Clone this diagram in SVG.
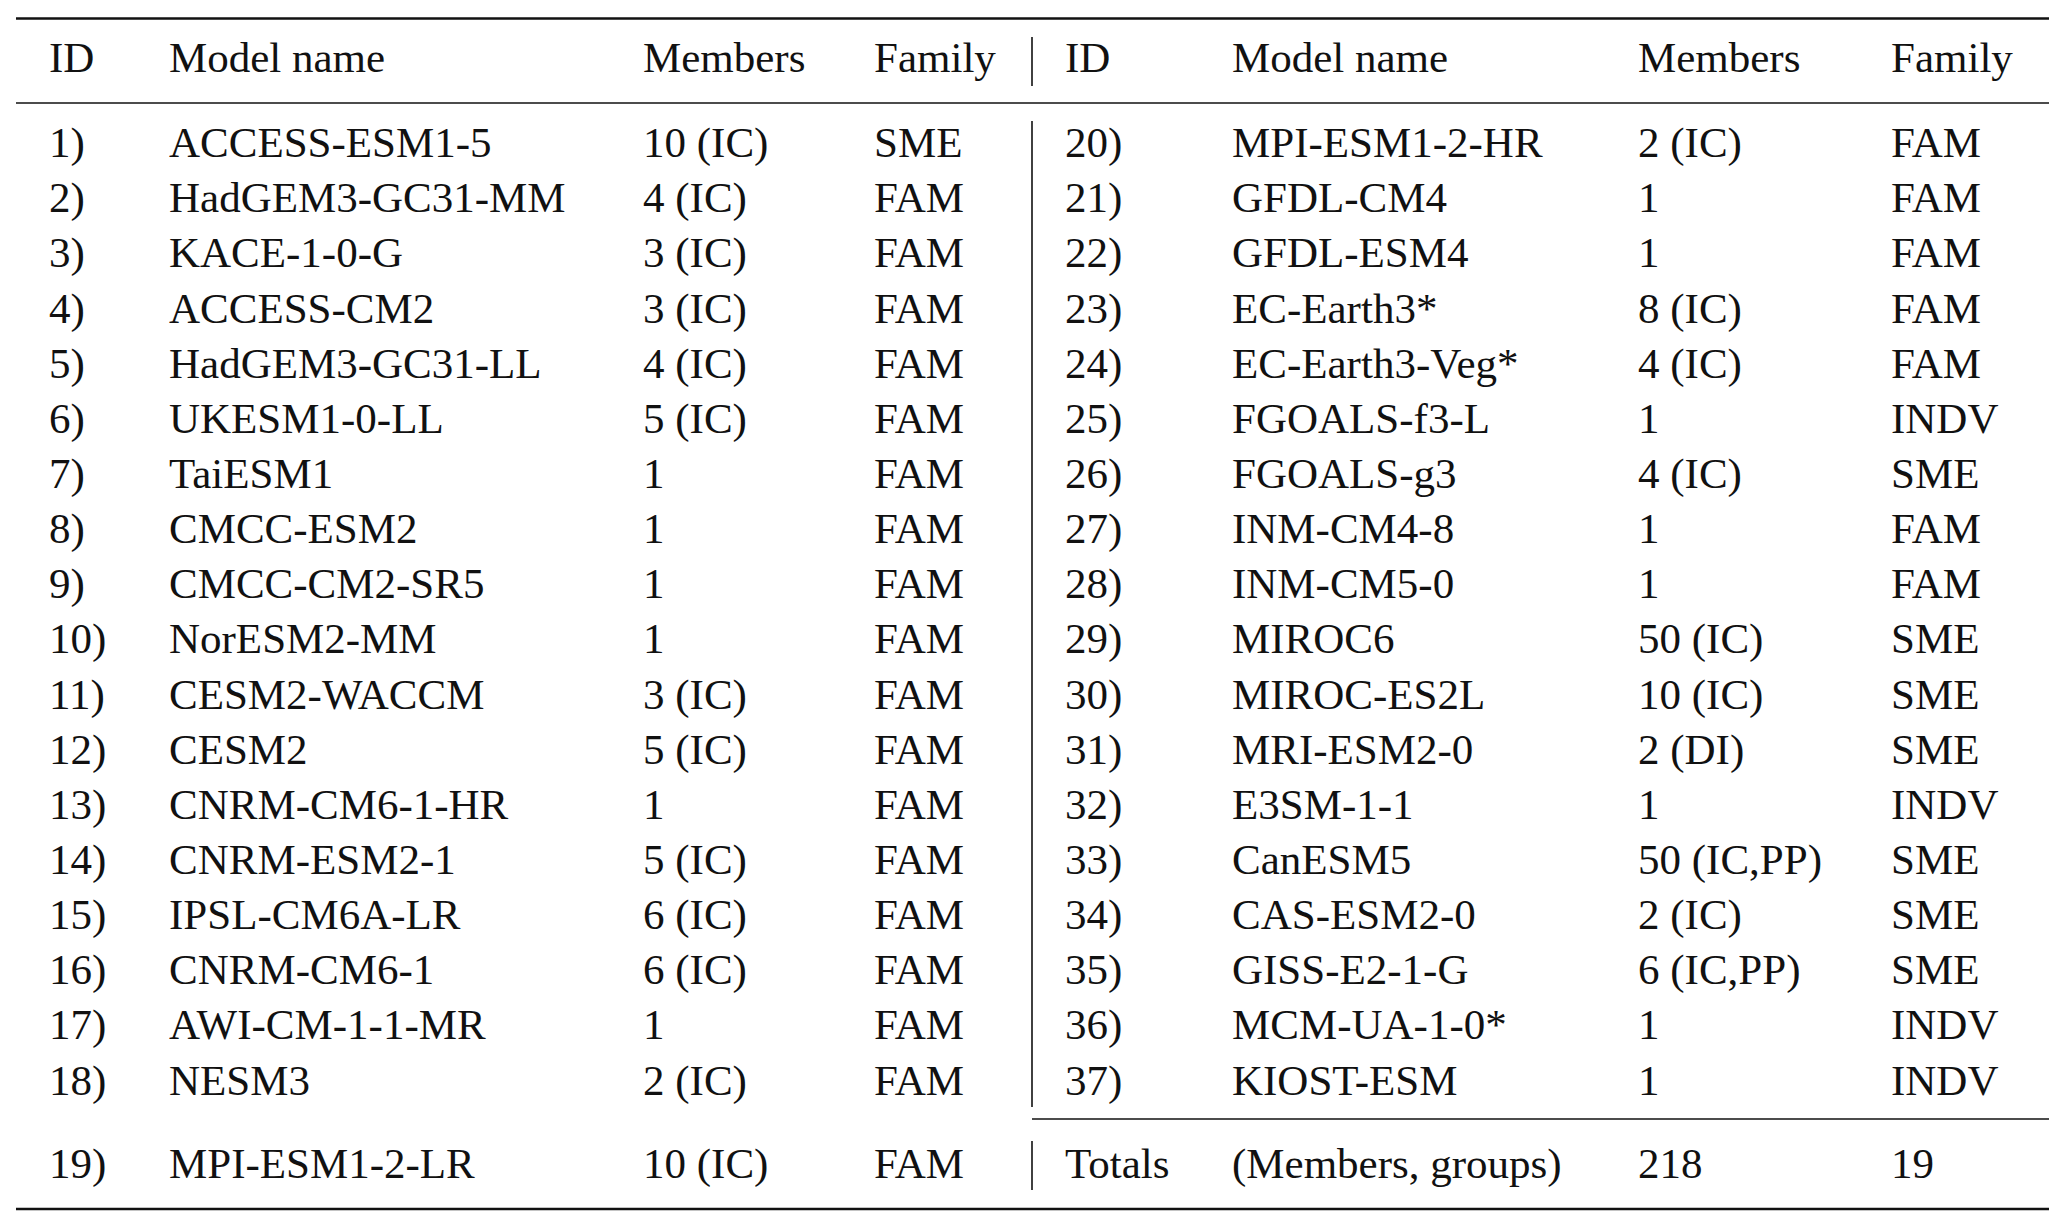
<svg xmlns="http://www.w3.org/2000/svg" width="2067" height="1229" viewBox="0 0 2067 1229">
<style>
text{font-family:"Liberation Serif","Times New Roman",serif;font-size:43px;fill:#111}
line{stroke:#111}
</style>
<rect width="2067" height="1229" fill="#fff"/>
<g id="rules">
<line x1="16" y1="18.5" x2="2049" y2="18.5" stroke-width="2.5"/>
<line x1="16" y1="103" x2="2049" y2="103" stroke-width="1.6"/>
<line x1="16" y1="1209" x2="2049" y2="1209" stroke-width="2.5"/>
<line x1="1032" y1="1119" x2="2049" y2="1119" stroke-width="1.6"/>
<line x1="1032" y1="37" x2="1032" y2="86" stroke-width="1.6"/>
<line x1="1032" y1="121" x2="1032" y2="1107" stroke-width="1.6"/>
<line x1="1032" y1="1141" x2="1032" y2="1190" stroke-width="1.6"/>
</g>
<g id="header">
<text x="49" y="72">ID</text><text x="169" y="72">Model name</text><text x="643" y="72">Members</text><text x="874" y="72">Family</text>
<text x="1065" y="72">ID</text><text x="1232" y="72">Model name</text><text x="1638" y="72">Members</text><text x="1891" y="72">Family</text>
</g>
<g id="left">
<text x="49" y="157">1)</text><text x="169" y="157">ACCESS-ESM1-5</text><text x="643" y="157">10 (IC)</text><text x="874" y="157">SME</text>
<text x="49" y="212">2)</text><text x="169" y="212">HadGEM3-GC31-MM</text><text x="643" y="212">4 (IC)</text><text x="874" y="212">FAM</text>
<text x="49" y="267">3)</text><text x="169" y="267">KACE-1-0-G</text><text x="643" y="267">3 (IC)</text><text x="874" y="267">FAM</text>
<text x="49" y="323">4)</text><text x="169" y="323">ACCESS-CM2</text><text x="643" y="323">3 (IC)</text><text x="874" y="323">FAM</text>
<text x="49" y="378">5)</text><text x="169" y="378">HadGEM3-GC31-LL</text><text x="643" y="378">4 (IC)</text><text x="874" y="378">FAM</text>
<text x="49" y="433">6)</text><text x="169" y="433">UKESM1-0-LL</text><text x="643" y="433">5 (IC)</text><text x="874" y="433">FAM</text>
<text x="49" y="488">7)</text><text x="169" y="488">TaiESM1</text><text x="643" y="488">1</text><text x="874" y="488">FAM</text>
<text x="49" y="543">8)</text><text x="169" y="543">CMCC-ESM2</text><text x="643" y="543">1</text><text x="874" y="543">FAM</text>
<text x="49" y="598">9)</text><text x="169" y="598">CMCC-CM2-SR5</text><text x="643" y="598">1</text><text x="874" y="598">FAM</text>
<text x="49" y="653">10)</text><text x="169" y="653">NorESM2-MM</text><text x="643" y="653">1</text><text x="874" y="653">FAM</text>
<text x="49" y="709">11)</text><text x="169" y="709">CESM2-WACCM</text><text x="643" y="709">3 (IC)</text><text x="874" y="709">FAM</text>
<text x="49" y="764">12)</text><text x="169" y="764">CESM2</text><text x="643" y="764">5 (IC)</text><text x="874" y="764">FAM</text>
<text x="49" y="819">13)</text><text x="169" y="819">CNRM-CM6-1-HR</text><text x="643" y="819">1</text><text x="874" y="819">FAM</text>
<text x="49" y="874">14)</text><text x="169" y="874">CNRM-ESM2-1</text><text x="643" y="874">5 (IC)</text><text x="874" y="874">FAM</text>
<text x="49" y="929">15)</text><text x="169" y="929">IPSL-CM6A-LR</text><text x="643" y="929">6 (IC)</text><text x="874" y="929">FAM</text>
<text x="49" y="984">16)</text><text x="169" y="984">CNRM-CM6-1</text><text x="643" y="984">6 (IC)</text><text x="874" y="984">FAM</text>
<text x="49" y="1039">17)</text><text x="169" y="1039">AWI-CM-1-1-MR</text><text x="643" y="1039">1</text><text x="874" y="1039">FAM</text>
<text x="49" y="1095">18)</text><text x="169" y="1095">NESM3</text><text x="643" y="1095">2 (IC)</text><text x="874" y="1095">FAM</text>
<text x="49" y="1178">19)</text><text x="169" y="1178">MPI-ESM1-2-LR</text><text x="643" y="1178">10 (IC)</text><text x="874" y="1178">FAM</text>
</g>
<g id="right">
<text x="1065" y="157">20)</text><text x="1232" y="157">MPI-ESM1-2-HR</text><text x="1638" y="157">2 (IC)</text><text x="1891" y="157">FAM</text>
<text x="1065" y="212">21)</text><text x="1232" y="212">GFDL-CM4</text><text x="1638" y="212">1</text><text x="1891" y="212">FAM</text>
<text x="1065" y="267">22)</text><text x="1232" y="267">GFDL-ESM4</text><text x="1638" y="267">1</text><text x="1891" y="267">FAM</text>
<text x="1065" y="323">23)</text><text x="1232" y="323">EC-Earth3*</text><text x="1638" y="323">8 (IC)</text><text x="1891" y="323">FAM</text>
<text x="1065" y="378">24)</text><text x="1232" y="378">EC-Earth3-Veg*</text><text x="1638" y="378">4 (IC)</text><text x="1891" y="378">FAM</text>
<text x="1065" y="433">25)</text><text x="1232" y="433">FGOALS-f3-L</text><text x="1638" y="433">1</text><text x="1891" y="433">INDV</text>
<text x="1065" y="488">26)</text><text x="1232" y="488">FGOALS-g3</text><text x="1638" y="488">4 (IC)</text><text x="1891" y="488">SME</text>
<text x="1065" y="543">27)</text><text x="1232" y="543">INM-CM4-8</text><text x="1638" y="543">1</text><text x="1891" y="543">FAM</text>
<text x="1065" y="598">28)</text><text x="1232" y="598">INM-CM5-0</text><text x="1638" y="598">1</text><text x="1891" y="598">FAM</text>
<text x="1065" y="653">29)</text><text x="1232" y="653">MIROC6</text><text x="1638" y="653">50 (IC)</text><text x="1891" y="653">SME</text>
<text x="1065" y="709">30)</text><text x="1232" y="709">MIROC-ES2L</text><text x="1638" y="709">10 (IC)</text><text x="1891" y="709">SME</text>
<text x="1065" y="764">31)</text><text x="1232" y="764">MRI-ESM2-0</text><text x="1638" y="764">2 (DI)</text><text x="1891" y="764">SME</text>
<text x="1065" y="819">32)</text><text x="1232" y="819">E3SM-1-1</text><text x="1638" y="819">1</text><text x="1891" y="819">INDV</text>
<text x="1065" y="874">33)</text><text x="1232" y="874">CanESM5</text><text x="1638" y="874">50 (IC,PP)</text><text x="1891" y="874">SME</text>
<text x="1065" y="929">34)</text><text x="1232" y="929">CAS-ESM2-0</text><text x="1638" y="929">2 (IC)</text><text x="1891" y="929">SME</text>
<text x="1065" y="984">35)</text><text x="1232" y="984">GISS-E2-1-G</text><text x="1638" y="984">6 (IC,PP)</text><text x="1891" y="984">SME</text>
<text x="1065" y="1039">36)</text><text x="1232" y="1039">MCM-UA-1-0*</text><text x="1638" y="1039">1</text><text x="1891" y="1039">INDV</text>
<text x="1065" y="1095">37)</text><text x="1232" y="1095">KIOST-ESM</text><text x="1638" y="1095">1</text><text x="1891" y="1095">INDV</text>
<text x="1065" y="1178">Totals</text><text x="1232" y="1178">(Members, groups)</text><text x="1638" y="1178">218</text><text x="1891" y="1178">19</text>
</g>
</svg>
